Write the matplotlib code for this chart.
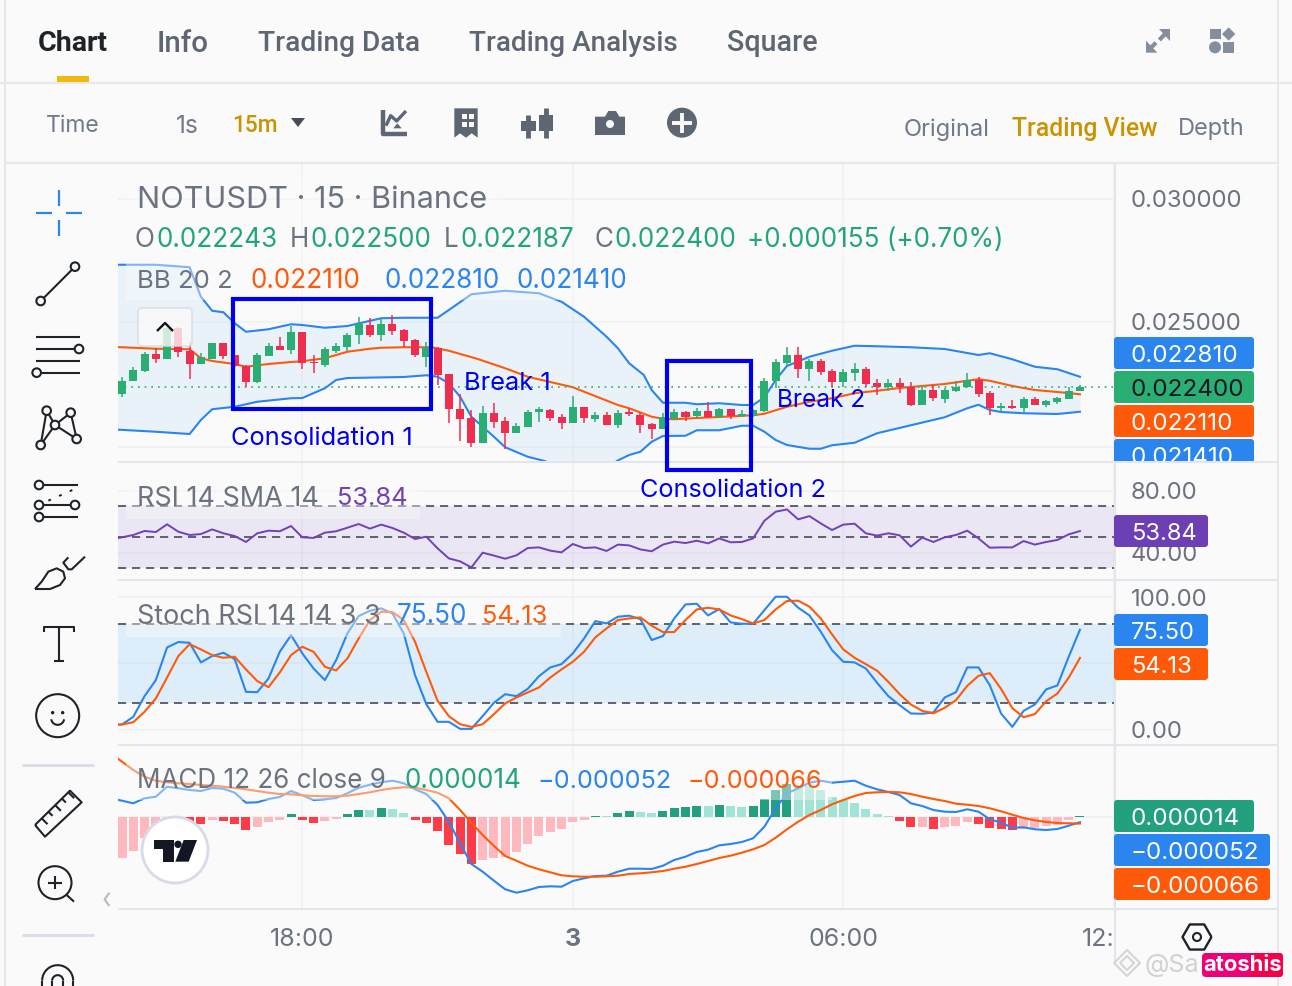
import numpy as np
import matplotlib
matplotlib.use('Agg')
import matplotlib.pyplot as plt
from matplotlib.patches import Rectangle, Circle, Polygon, FancyBboxPatch
from matplotlib.ticker import FixedLocator

# ---------- data: prices in millionths of USDT, one entry per 15-minute candle ----------
opens = [22120,22650,23050,23710,23530,24750,23850,23320,23520,24150,
 23680,23250,22600,23640,24040,23880,24590,23410,23270,23850,
 24010,24470,24880,24490,24920,24680,24280,23610,23950,22910,
 21510,21160,20170,21350,21030,20550,20810,21400,21480,21190,
 20970,21590,21130,21270,20890,21400,21270,20920,20730,21130,
 21400,21240,21450,21210,21510,21250,21240,21430,22630,23350,
 23670,23130,23430,23030,22600,22950,23110,22550,22390,22550,
 22390,21690,22280,21930,22250,22390,22680,22150,21560,21640,
 21560,21910,21670,21800,21930,22230]
highs = [22790,23210,23810,23950,24750,24810,24210,23770,24160,24150,
 23680,23280,23750,24150,24390,24840,24610,23680,23990,24170,
 24570,25190,25150,25110,25270,24710,24310,24200,23990,22920,
 22120,21480,21640,21750,21190,20970,21480,21610,21510,21320,
 22040,21610,21400,21400,21480,21550,21350,20970,21350,21510,
 21450,21550,21800,21560,21510,21480,21530,22750,23510,23990,
 23990,23530,23510,23110,23110,23370,23210,22710,22710,22760,
 22600,22390,22470,22360,22650,22950,22790,22230,21750,21880,
 21990,21990,21880,22010,22410,22470]
lows = [21990,22650,23010,23370,23530,23590,22730,23320,23520,23520,
 23210,22390,22570,23640,23880,23720,23120,22950,23210,23770,
 23850,24120,24390,24250,24490,23990,23610,23190,22490,20950,
 20250,20010,20170,20760,19930,20550,20810,21000,21030,20730,
 20970,20950,21000,20870,20770,21240,20550,20330,20710,21130,
 21050,21190,21160,21190,21130,21190,21190,21400,22360,23240,
 22760,22650,22890,22390,22410,22630,22410,22070,22250,22170,
 21640,21690,21850,21770,22200,22360,22010,21270,21400,21530,
 21370,21670,21610,21720,21930,22230]
closes = [22650,23080,23710,23510,24750,23790,23320,23590,24160,23650,
 23240,22600,23670,24050,23880,24610,23350,23350,23910,24040,
 24470,24920,24480,24920,24640,24250,23670,23990,22880,21510,
 21130,20170,21350,21000,20550,20840,21400,21510,21160,20970,
 21610,21160,21290,20890,21350,21320,20890,20730,21190,21400,
 21210,21450,21190,21510,21240,21320,21480,22630,23400,23670,
 23130,23430,23000,22600,23000,23130,22520,22390,22550,22390,
 21690,22280,21960,22280,22410,22680,22120,21560,21640,21560,
 21910,21670,21830,21960,22230,22400]
last_price = 22400

bb_mid_x = [-1,3,6,7,8,10,11,13,15,16,18,20,22,23,25,27.5,29,31.5,34,36,40,44,45,47,48,49,51,53,56,57,59,61,63,65,67,69,71,73,75,76,77,79,81,83,85]
bb_mid = [24010,23930,23910,23550,23440,23320,23210,23320,23400,23430,23550,23810,23930,23970,23990,23990,23850,23530,23150,22810,22390,21680,21550,21210,21130,21110,21160,21200,21270,21330,21610,21810,21950,22150,22250,22360,22440,22520,22650,22710,22650,22440,22280,22200,22110]
bb_up_x = [-1,3,6,7,8,9,10,11,13,15,16,18,20,23,25,28,29,31,34,37,39,41,43,44,45,46.3,47,48,50,51,53,55,56,57,58,59,61,63,65,67,70,73,76,77,79,81,83,85]
bb_up = [27290,27290,27190,26010,25450,25390,24950,24610,24710,24910,24880,24770,24840,25150,25170,25170,25480,26110,26250,26150,25810,25210,24410,23950,23350,22880,22280,21770,21770,21710,21750,21680,21680,21990,22680,23240,23610,23850,24050,24030,23990,23920,23680,23750,23510,23210,23110,22810]
bb_lo_x = [-1,3,6,7,8,10,12,15,16,18,19,20,25,27,28,29,30,31,33,34,36,37.5,40,43,43.9,45,46,47,48,50,51,53,55,56,57,58,59,61,62,63,65,67,70,73,75,76,77,78,80,83,85]
bb_lo = [20710,20610,20520,21080,21510,21610,21810,21950,21960,22350,22680,22760,22800,22870,22810,22550,22010,21210,20410,19990,19610,19440,18950,18950,19440,19680,19810,20210,20440,20450,20670,20670,20850,20850,20610,20280,20080,19930,19930,20070,20170,20550,20870,21190,21550,21690,21480,21400,21350,21320,21410]

# oscillators start one candle left of the first visible candle
rsi = [48.5,49.8,51.3,53.9,53.2,58.2,53.4,51.3,51.9,54.9,52.4,50.6,46.8,52.4,54.1,53.7,57.1,49.8,49.4,52.8,53.7,56.0,58.4,55.4,58.0,55.8,52.8,48.7,50.2,42.7,36.2,34.3,30.4,39.9,38.0,36.0,38.2,42.9,43.3,41.2,40.1,45.5,42.9,43.3,41.0,45.1,44.6,42.0,40.8,45.1,47.0,46.1,47.6,45.9,49.1,46.6,46.8,49.1,60.5,66.3,67.8,61.4,63.5,58.8,54.5,58.0,58.6,52.4,50.9,52.4,51.1,43.8,49.6,46.8,49.8,51.3,54.1,49.1,43.1,43.3,43.3,47.4,45.1,46.8,48.1,51.7,53.84]
stoch_k = [3.5,3.9,9.7,25.3,37.4,62.1,66.2,65.6,50.8,55.6,58.1,53.3,28.6,28.3,38.7,58.8,71.4,57.6,46.2,37.4,52.5,72.7,85.8,89.8,91.6,87.8,72.7,41.2,19.3,5.9,5.9,0.6,0.6,10.2,20.3,26.8,25.3,30.8,40.4,47.0,49.5,57.6,68.9,82.0,80.3,85.3,86.1,83.5,67.7,70.7,84.0,94.6,95.1,86.3,91.1,81.0,80.0,80.0,90.3,100.4,100.4,92.1,86.3,74.0,60.1,51.3,50.8,46.2,35.4,25.3,18.5,12.2,12.0,13.0,24.3,28.3,47.0,47.0,33.6,12.2,2.1,14.2,19.0,30.4,33.4,55.0,75.5]
stoch_d = [3.5,3.9,5.6,13.5,23.5,39.4,55.6,64.6,60.6,56.3,54.3,55.1,45.5,36.7,32.1,43.2,56.3,62.6,58.8,47.5,44.7,53.8,68.9,82.8,89.1,88.8,82.8,66.4,43.7,21.8,10.2,4.1,2.1,4.1,11.7,19.8,24.3,28.1,31.9,39.4,45.5,51.3,58.8,69.7,76.5,82.8,84.0,84.8,78.5,73.7,73.7,82.8,90.8,92.1,90.8,86.3,83.5,80.3,82.8,90.8,97.2,97.4,92.9,84.0,72.0,60.6,54.3,49.5,44.5,36.1,26.8,19.0,14.2,12.4,16.5,22.3,33.1,40.7,42.7,30.8,16.2,9.4,11.7,21.5,27.3,39.2,54.13]
# MACD in millionths
macd_line = [187,163,137,187,203,303,287,270,260,290,283,243,143,147,180,200,260,217,170,177,190,237,293,323,347,363,337,277,230,120,-47,-263,-470,-547,-637,-723,-757,-733,-700,-693,-697,-640,-613,-590,-587,-547,-517,-517,-520,-487,-430,-397,-350,-327,-283,-270,-250,-213,-97,87,237,287,343,363,343,353,363,313,277,250,220,137,110,70,53,50,77,53,-23,-57,-107,-103,-123,-130,-120,-87,-52]
macd_signal = [637,553,470,403,363,347,337,330,320,313,303,290,277,260,243,230,227,217,210,207,207,213,230,247,270,287,297,293,270,243,187,70,-57,-180,-290,-390,-437,-487,-523,-553,-583,-593,-597,-597,-593,-587,-570,-563,-553,-540,-517,-497,-470,-440,-410,-387,-357,-323,-280,-207,-123,-47,20,70,127,170,210,240,247,250,247,230,203,180,160,133,123,110,87,57,23,-10,-33,-50,-60,-63,-66]
macd_hist = [-407,-337,-213,-113,-23,-17,-47,-70,-30,-40,-70,-130,-100,-50,-30,30,-30,-57,-37,-20,30,70,70,90,80,40,-30,-57,-140,-280,-370,-470,-430,-410,-400,-350,-270,-190,-150,-120,-50,-30,13,10,40,60,50,40,60,90,100,115,110,120,110,100,110,180,270,330,320,310,270,200,170,140,80,30,10,-40,-100,-100,-120,-100,-90,-50,-70,-110,-120,-130,-115,-110,-90,-80,-30,14]

time_ticks = [16,40,64,88]
time_labels = ['18:00','3','06:00','12:00']

# ---------- page ----------
W, H = 1292, 986
BG = '#FAFAFA'
FONT = ['Inter', 'Noto Sans', 'DejaVu Sans']
TABFONT = ['Roboto', 'Inter', 'DejaVu Sans']
plt.rcParams['font.family'] = FONT
GREY = '#6B7280'
BLUE = '#2A85EE'
ORANGE = '#FF5A0A'
PURPLE = '#7041B8'
SCALE = 1e-6
fig = plt.figure(figsize=(W/100, H/100), dpi=100, facecolor=BG)

def panel(y0, y1, ymin, ymax):
    ax = fig.add_axes([118/W, 1-y1/H, (1115-118)/W, (y1-y0)/H], facecolor=BG)
    ax.set_xlim(-0.355, 88.11)
    ax.set_ylim(ymin, ymax)
    for s in ax.spines.values():
        s.set_visible(False)
    ax.grid(True, color='#F0F0F3', lw=1.1)
    ax.set_axisbelow(True)
    ax.yaxis.tick_right()
    ax.xaxis.set_major_locator(FixedLocator(time_ticks))
    ax.tick_params(axis='both', length=0, labelbottom=False, labelsize=17.2, colors=GREY)
    ax.tick_params(axis='y', pad=11.5)
    return ax

def yticks(ax, vals, labs):
    ax.set_yticks(vals)
    ax.set_yticklabels(labs)

idx = np.arange(len(opens))
osc_x = np.arange(-1, len(opens))
o, h, l, c = [np.array(v)*SCALE for v in (opens, highs, lows, closes)]
LW = 1.5

# main
a0 = panel(164, 461, 19440*SCALE, 31320*SCALE)
yticks(a0, [0.02, 0.025, 0.02994], ['', '0.025000', '0.030000'])
xs = np.arange(-1, 85.01, 0.25)
up_i = np.interp(xs, bb_up_x, bb_up)*SCALE
lo_i = np.interp(xs, bb_lo_x, bb_lo)*SCALE
a0.fill_between(xs, lo_i, up_i, color='#2196F3', alpha=0.07, lw=0)
a0.plot(bb_up_x, np.array(bb_up)*SCALE, color=BLUE, lw=LW)
a0.plot(bb_lo_x, np.array(bb_lo)*SCALE, color=BLUE, lw=LW)
a0.plot(bb_mid_x, np.array(bb_mid)*SCALE, color=ORANGE, lw=LW)
a0.axhline(last_price*SCALE, color='#2BAE74', lw=1.2, ls=(0, (1, 3)))
cols = ['#2BAE74' if closes[i] >= opens[i] else '#EF2D4E' for i in idx]
a0.vlines(idx, l, h, colors=cols, lw=1.1, zorder=4)
a0.bar(idx, np.abs(c-o), bottom=np.minimum(o, c), width=0.71, color=cols, lw=0, zorder=5)

# RSI
a1 = panel(462, 580, 22.26, 98.4)
yticks(a1, [40, 80], ['40.00', '80.00'])
a1.axhspan(30, 70, color='#7E57C2', alpha=0.12, lw=0)
for v in (70, 50, 30):
    a1.axhline(v, color='#5F616C', lw=1.4, ls=(0, (4.2, 3)))
a1.plot(osc_x, rsi, color=PURPLE, lw=1.4)

# Stoch RSI
a2 = panel(581, 745, -11.6, 112.3)
yticks(a2, [0, 50, 100], ['0.00', '', '100.00'])
a2.axhspan(20, 80, color='#2196F3', alpha=0.13, lw=0)
for v in (80, 20):
    a2.axhline(v, color='#5F616C', lw=1.4, ls=(0, (4.2, 3)))
a2.plot(osc_x, stoch_k, color=BLUE, lw=LW)
a2.plot(osc_x, stoch_d, color=ORANGE, lw=LW)

# MACD
a3 = panel(746, 908, -910, 710)
a3.set_yticks([0])
a3.set_yticklabels([''])
hc = []
for i, v in enumerate(macd_hist):
    prev = macd_hist[i-1] if i else v-1
    if v >= 0:
        hc.append('#22A07F' if v > prev else '#A1E3D4')
    else:
        hc.append('#FF3B47' if v < prev else '#FFB9BE')
a3.bar(idx, macd_hist, width=0.8, color=hc, lw=0, zorder=3)
a3.plot(osc_x, macd_line, color=BLUE, lw=LW, zorder=4)
a3.plot(osc_x, macd_signal, color=ORANGE, lw=LW, zorder=4)
a3.set_xticks(time_ticks)
a3.set_xticklabels(time_labels)
a3.tick_params(axis='x', labelbottom=True, pad=14.2, labelsize=18)
labs = a3.get_xticklabels()
labs[1].set_fontweight('bold')
for lb in labs:
    lb.set_color(GREY)
labs[3].set_clip_on(True)
labs[3].set_clip_box(matplotlib.transforms.Bbox([[0, 0], [1116, H]]))

# ---------- overlay in page pixels: chrome, annotations, legends ----------
ov = fig.add_axes([0, 0, 1, 1], facecolor='none')
ov.set_xlim(0, W)
ov.set_ylim(H, 0)
ov.axis('off')
rend = fig.canvas.get_renderer()

def T(x0, x1, yc, s, color=GREY, weight='normal', ref=None, **kw):
    """Place text left-aligned; font size fits `ref` (or s itself) into x0..x1."""
    probe = ov.text(0, 0, ref or s, fontsize=10, fontweight=weight, **{k: v for k, v in kw.items() if k == 'family'})
    w = probe.get_window_extent(rend).width
    probe.remove()
    size = 10*(x1-x0)/w
    t = ov.text(x0, yc + 0.36*size*100/72, s, color=color, fontsize=size, fontweight=weight, va='baseline', ha='left', **kw)
    return t

def L(pts, color='#1E2329', lw=1.5, **kw):
    p = np.array(pts, float)
    ov.plot(p[:, 0], p[:, 1], color=color, lw=lw, solid_capstyle=kw.pop('cap', 'butt'), **kw)

def R(x0, y0, x1, y1, color, alpha=1.0, z=1):
    ov.add_patch(Rectangle((x0, y0), x1-x0, y1-y0, fc=color, ec='none', alpha=alpha, zorder=z))

def C(x, y, r, ec='#1E2329', fc=BG, lw=1.5, z=3):
    ov.add_patch(Circle((x, y), r, ec=ec, fc=fc, lw=lw, zorder=z))

LINE = '#E3E5EC'
# frame
L([(5, 0), (5, H)], '#E6E8EA', 1.5)
L([(1278, 0), (1278, H)], '#E6E8EA', 1.5)
L([(0, 83), (W, 83)], '#E6E8EA', 1.5)
L([(5, 163), (1278, 163)], '#E6E8EA', 1.5)
for y in (461.5, 580, 745, 908.5):
    L([(118, y), (1278, y)], LINE, 1.5)
L([(1115, 164), (1115, 965)], LINE, 1.5)

# tabs
T(38, 108, 41, 'Chart', '#1E2329', 'bold', family=TABFONT)
T(157, 209, 41, 'Info', '#5E6673', 'medium', family=TABFONT)
T(258, 420, 41, 'Trading Data', '#5E6673', 'medium', family=TABFONT)
T(469, 678, 41, 'Trading Analysis', '#5E6673', 'medium', family=TABFONT)
T(727, 817, 41, 'Square', '#5E6673', 'medium', family=TABFONT)
R(57, 76, 89, 82, '#F0B90B')
T(46, 100, 124, 'Time', '#707A8A')
T(176, 199, 124, '1s', '#707A8A')
T(232, 278, 124, '15m', '#C99400', 'medium', family=TABFONT)
ov.add_patch(Polygon([(291, 118), (305, 118), (298, 127)], fc='#474D57', ec='none'))
T(904, 991, 127, 'Original', '#707A8A')
T(1012, 1157, 127, 'Trading View', '#C99400', 'medium', family=TABFONT)
T(1178, 1245, 127, 'Depth', '#707A8A')

# top-right icons
IC = '#848E9C'
def zt(x, y): return (1120+x/3, 10+y/3)
ov.add_patch(Polygon([zt(118, 58), zt(150, 58), zt(150, 92)], fc=IC, ec='none'))
ov.add_patch(Polygon([zt(78, 128), zt(78, 92), zt(112, 128)], fc=IC, ec='none'))
L([zt(135, 72), zt(118, 90)], IC, 3)
L([zt(108, 98), zt(92, 114)], IC, 3)
ov.add_patch(Polygon([zt(270, 58), zt(302, 58), zt(302, 88), zt(270, 88)], fc=IC, ec='none'))
ov.add_patch(Polygon([zt(326, 52), zt(346, 72), zt(326, 92), zt(306, 72)], fc=IC, ec='none'))
ov.add_patch(Circle(zt(285, 112), 6, fc=IC, ec='none'))
ov.add_patch(Polygon([zt(310, 97), zt(342, 97), zt(342, 128), zt(310, 128)], fc=IC, ec='none'))

# second-row icons
IK = '#5E6673'
def zb(x, y): return (360+x/3, 95+y/3)
L([zb(68, 45), zb(68, 118), zb(142, 118)], IK, 3.2)
L([zb(78, 92), zb(92, 62), zb(110, 78), zb(138, 48)], IK, 2.4)
ov.add_patch(Polygon([zb(100, 100), zb(112, 85), zb(125, 100)], fc=IK, ec='none'))
ov.add_patch(Polygon([zb(283, 40), zb(353, 40), zb(353, 128), zb(335, 115), zb(318, 128), zb(300, 115), zb(283, 128)], fc=IK, ec='none'))
for xa, ya in ((305, 58), (328, 58), (305, 82), (328, 82)):
    ov.add_patch(Polygon([zb(xa, ya), zb(xa+15, ya), zb(xa+15, ya+14), zb(xa, ya+14)], fc=BG, ec='none', zorder=3))
for xc, top, t2, b2 in ((505, 60, 78, 108), (558, 40, 60, 108)):
    L([zb(xc, top), zb(xc, 128)], IK, 3.5)
    ov.add_patch(Polygon([zb(xc-21, t2), zb(xc+22, t2), zb(xc+22, b2), zb(xc-21, b2)], fc=IK, ec='none'))
ov.add_patch(Polygon([zb(705, 65), zb(735, 65), zb(745, 48), zb(768, 48), zb(778, 65), zb(795, 65), zb(795, 120), zb(705, 120)], fc=IK, ec='none'))
ov.add_patch(Circle(zb(750, 87), 4, fc=BG, ec='none', zorder=3))
ov.add_patch(Circle(zb(966, 83), 15, fc=IK, ec='none'))
L([zb(936, 83), zb(996, 83)], BG, 2.8, zorder=3)
L([zb(966, 53), zb(966, 113)], BG, 2.8, zorder=3)

# left toolbar
def z7(x, y): return (x/3, 170+y/3)
def z11(x, y): return (x/3, 550+y/3)
for seg in ([(108, 128), (156, 128)], [(198, 128), (246, 128)], [(177, 60), (177, 108)], [(177, 150), (177, 198)]):
    L([z7(*q) for q in seg], '#2A85EE', 1.6)
L([z7(122, 393), z7(225, 290)])
C(*z7(122, 393), 4.3); C(*z7(225, 290), 4.3)
L([z7(108, 500), z7(240, 500)]); L([z7(108, 537), z7(225, 537)])
L([z7(108, 573), z7(240, 573)]); L([z7(122, 608), z7(240, 608)])
C(*z7(237, 537), 4.3); C(*z7(110, 608), 4.3)
pts = dict(a=(140, 722), b=(212, 728), c=(122, 825), d=(230, 807), e=(165, 765))
for p, q in ('ac', 'ae', 'ec', 'eb', 'ed', 'bd'):
    L([z7(*pts[p]), z7(*pts[q])])
for q in pts.values():
    C(*z7(*q), 4.3)
L([z7(130, 945), z7(233, 945)]); L([z7(130, 1005), z7(212, 1005)]); L([z7(130, 1041), z7(233, 1041)])
L([z7(145, 992), z7(222, 958)], '#1E2329', 1.4, ls=(0, (1.5, 4.5)))
for q in ((117, 945), (117, 1005), (225, 1005), (117, 1041)):
    C(*z7(*q), 4.3)
L([z11(*q) for q in ((105, 117), (150, 117), (180, 105), (195, 85), (190, 65), (170, 55), (145, 65), (125, 95), (105, 117))])
L([z11(*q) for q in ((205, 22), (190, 38), (205, 58), (215, 58), (255, 20))])
L([z11(133, 245), z11(133, 232), z11(222, 232), z11(222, 245)])
L([z11(177, 232), z11(177, 332)]); L([z11(162, 332), z11(192, 332)])
C(*z11(173, 497), 21.5, fc='none')
ov.add_patch(Circle(z11(158, 488), 1.7, fc='#1E2329', ec='none', zorder=4))
ov.add_patch(Circle(z11(188, 488), 1.7, fc='#1E2329', ec='none', zorder=4))
th = np.linspace(0.15, np.pi-0.15, 24)
L(np.column_stack([173/3+6.5*np.cos(th), 550+505/3+6.5*np.sin(th)]))
L([(22, 765), (94, 765)], '#D9DCE6', 2)
L([(22, 935), (94, 935)], '#D9DCE6', 2)
L([z11(*q) for q in ((105, 825), (210, 722), (245, 757), (135, 860), (105, 825))])
for a_, b_, n in ((125, 805, 25), (145, 785, 18), (165, 765, 25), (185, 745, 18), (205, 727, 25)):
    L([z11(a_, b_), z11(a_+n*0.7, b_+n*0.7)])
C(*z11(165, 998), 16.5, fc='none')
L([z11(145, 998), z11(185, 998)]); L([z11(165, 978), z11(165, 1018)])
L([z11(200, 1035), z11(222, 1055)])
th = np.linspace(np.pi, 2*np.pi, 40)
cy = 550+1292/3
L(np.column_stack([173/3+15.5*np.cos(th), cy+15.5*np.sin(th)]))
L(np.column_stack([173/3+5.5*np.cos(th), cy+5.5*np.sin(th)]))
L([z11(127, 1292), z11(127, 1308)]); L([z11(219, 1292), z11(219, 1308)])
L([z11(157, 1292), z11(157, 1308)]); L([z11(189, 1292), z11(189, 1308)])
L([z11(328, 1028), z11(314, 1048), z11(328, 1068)], '#B7BDC6', 1.6)

# translucent legend backings
for x0, y0, x1, y1 in ((126, 178, 500, 218), (126, 220, 1018, 259), (126, 260, 648, 300),
                       (126, 480, 420, 519), (126, 598, 561, 637), (126, 760, 832, 800)):
    R(x0, y0, x1, y1, BG, 0.42)

# legends
NUM = '0.022222'
T(137, 488, 197, 'NOTUSDT · 15 · Binance', GREY)
LG = '#22A57D'
T(135, 256, 238, 'O', GREY, ref=NUM); T(156, 277, 238, '0.022243', LG, ref=NUM)
T(290, 411, 238, 'H', GREY, ref=NUM); T(311, 432, 238, '0.022500', LG, ref=NUM)
T(444, 565, 238, 'L', GREY, ref=NUM); T(460, 581, 238, '0.022187', LG, ref=NUM)
T(594, 715, 238, 'C', GREY, ref=NUM); T(614, 735, 238, '0.022400', LG, ref=NUM)
T(747, 1006, 238, '+0.000155 (+0.70%)', LG)
T(137, 233, 279, 'BB 20 2', GREY)
T(250, 371, 279, '0.022110', ORANGE, ref=NUM); T(384, 505, 279, '0.022810', BLUE, ref=NUM); T(517, 638, 279, '0.021410', BLUE, ref=NUM)
T(137, 319, 496, 'RSI 14 SMA 14', GREY); T(337, 408, 496, '53.84', PURPLE)
T(137, 381, 614, 'Stoch RSI 14 14 3 3', GREY); T(397, 468, 614, '75.50', BLUE); T(482, 553, 614, '54.13', ORANGE, ref='53.84')
T(137, 387, 779, 'MACD 12 26 close 9', GREY); T(404, 525, 779, '0.000014', LG, ref=NUM)
T(537, 673, 779, '\u22120.000052', BLUE); T(687, 823, 779, '\u22120.000066', ORANGE)

# collapse button
ov.add_patch(FancyBboxPatch((138, 308), 54, 38, boxstyle='round,pad=0,rounding_size=4', fc=BG, ec='#D9DBE1', lw=1.3, alpha=0.8))
L([(157, 331), (165, 323), (173, 331)], '#111111', 1.7)

# TradingView logo
ov.add_patch(Circle((175, 850), 33, fc='white', ec='#D8DBE6', lw=2, zorder=3))
def zl(x, y): return (118+x/3, 750+y/3)
LOGO = '#131722'
ov.add_patch(Polygon([zl(108, 270), zl(167, 270), zl(167, 335), zl(135, 335), zl(135, 296), zl(108, 296)], fc=LOGO, ec='none', zorder=4))
ov.add_patch(Circle(zl(180, 283), 3.7, fc=LOGO, ec='none', zorder=4))
ov.add_patch(Polygon([zl(197, 270), zl(237, 270), zl(212, 335), zl(172, 335)], fc=LOGO, ec='none', zorder=4))

# drawn annotations
AB = '#0000EE'
for x0, y0, x1, y1 in ((233, 299, 431, 409), (667, 361, 751, 470)):
    ov.add_patch(Rectangle((x0, y0), x1-x0, y1-y0, fc='none', ec=AB, lw=3, zorder=6))
T(231, 414, 436, 'Consolidation 1', AB, zorder=7)
T(464, 551, 381, 'Break 1', AB, zorder=7)
T(777, 866, 398, 'Break 2', AB, zorder=7)
T(640, 827, 488, 'Consolidation 2', AB, zorder=7)

# price badges
def badge(x1, yc, s, color, tc='white', hh=16):
    p = FancyBboxPatch((1114, yc-hh), x1-1114, 2*hh, boxstyle='round,pad=0,rounding_size=3', fc=color, ec='none', zorder=8)
    ov.add_patch(p)
    ref = '\u22120.022222' if s[0] == '\u2212' else (NUM if len(s) > 5 else '53.84')
    t = T(1131, x1-11, yc, s, tc, ref=ref, zorder=9)
    return p, t
badge(1254, 353, '0.022810', '#2A85EE')
badge(1254, 387, '0.022400', '#2BAE74', '#131722')
badge(1254, 421, '0.022110', ORANGE)
p_, t_ = badge(1254, 455, '0.021410', '#2A85EE')
clipr = Rectangle((1100, 430), 200, 31, transform=ov.transData)
p_.set_clip_path(clipr)
t_.set_clip_on(True)
t_.set_clip_path(clipr)
badge(1208, 531, '53.84', '#6C3FB5')
badge(1208, 630, '75.50', '#2A85EE')
badge(1208, 664, '54.13', ORANGE)
badge(1254, 816, '0.000014', '#22A07F')
badge(1270, 850, '\u22120.000052', '#2A85EE')
badge(1270, 884, '\u22120.000066', ORANGE)

# settings hexagon
a_ = np.deg2rad(np.arange(0, 361, 60))
L(np.column_stack([1197+14.5*np.cos(a_), 937+14.5*np.sin(a_)]), '#1E2329', 1.7)
C(1197, 937, 4, lw=1.5)

# watermark
for r_ in (13, 7):
    L([(1127-r_, 963), (1127, 963-r_), (1127+r_, 963), (1127, 963+r_), (1127-r_, 963)], '#D5D6D8', 1.5)
T(1145, 1200, 963, '@Sa', '#D0D1D3')
ov.add_patch(FancyBboxPatch((1202, 953), 81, 24, boxstyle='round,pad=0,rounding_size=4', fc='#EE0077', ec='none', zorder=8))
ov.add_patch(FancyBboxPatch((1250, 953), 33, 24, boxstyle='round,pad=0,rounding_size=4', fc='#F5004A', ec='none', zorder=8))
T(1203, 1282, 963, 'atoshis', 'white', 'bold', zorder=9)

fig.savefig('out.png', dpi=100, facecolor=BG)
